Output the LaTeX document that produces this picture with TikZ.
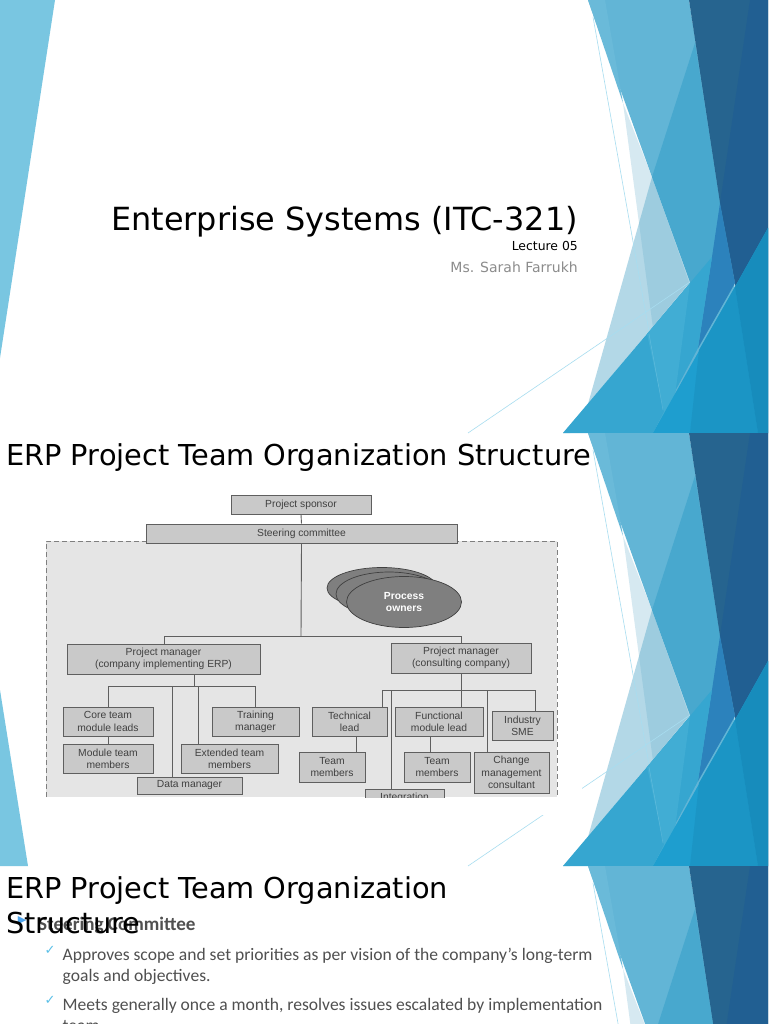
\documentclass[tikz,border=0pt]{standalone}
\usepackage{fontspec}
\setmainfont{DejaVu Sans}
\newfontfamily\bodyfont{Carlito}
\newfontfamily\diagfont{Liberation Sans}
\usetikzlibrary{shapes.geometric}
\definecolor{cLight}{HTML}{62B5D6}
\definecolor{cLighter}{HTML}{6ABAD9}
\definecolor{cMid}{HTML}{48A8CE}
\definecolor{cPale}{HTML}{B3D8E7}
\definecolor{cStrip}{HTML}{5DA9C9}
\definecolor{cDarkA}{HTML}{26648F}
\definecolor{cDarkB}{HTML}{215F92}
\definecolor{cBlue}{HTML}{2C82BC}
\definecolor{cTri}{HTML}{36A6D0}
\definecolor{cTriL}{HTML}{41ADD4}
\definecolor{cTriB}{HTML}{1E9ECF}
\definecolor{cTriM}{HTML}{1B95C5}
\definecolor{cTriC}{HTML}{178CBC}
\definecolor{cWedge}{HTML}{79C6E1}
\definecolor{cLine}{HTML}{A8DDF0}
\definecolor{cBox}{HTML}{C9C9C9}
\definecolor{cEdge}{HTML}{5F5F5F}
\definecolor{cRegion}{HTML}{E5E5E5}
\definecolor{cText}{HTML}{404040}
\definecolor{cOwner}{HTML}{7F7F7F}
\definecolor{cSub}{HTML}{8C8C8C}
\definecolor{cBody}{HTML}{505050}
\definecolor{cCheck}{HTML}{5BC0E8}
\tikzset{
  box/.style={draw=cEdge,fill=cBox,line width=1pt,inner sep=0pt,align=center,text=cText,
    font=\diagfont\fontsize{10.3}{12.2}\selectfont},
  link/.style={draw=cEdge,line width=0.9pt},
  owner/.style={ellipse,draw=cText,fill=cOwner,line width=0.7pt,inner sep=0pt},
  titletext/.style={anchor=base west,inner sep=0pt,font=\fontsize{28.8}{30}\selectfont,text=black},
  bodytext/.style={anchor=base west,inner sep=0pt,font=\bodyfont\fontsize{17.55}{20}\selectfont,text=cBody},
  check/.style={inner sep=0pt,text=cCheck,font=\fontsize{13}{14}\selectfont},
}
\newcommand{\bx}[6]{\node[box,minimum width={(#4-#2)*1pt},minimum height={(#5-#3)*1pt}] (#1) at ({(#2+#4)/2},{(#3+#5)/2}) {#6};}
\newcommand{\deco}[2]{%
  \begin{scope}[shift={(0,#1)}]
  \clip (0,0) rectangle (768,#2);
  \fill[cLight] (588,0)--(689,0)--(758,433)--(653,433)--(690,282)--cycle;
  \fill[cLighter] (588,0)--(605,0)--(623,103)--cycle;
  \fill[cPale] (652,177)--(690,282)--(588,404)--cycle;
  \fill[cPale] (588,404)--(605,385)--(570,433)--(563,433)--cycle;
  \fill[cStrip,opacity=.25] (623,103)--(652,177)--(690,285)--(667,433)--cycle;
  \fill[cMid] (695,43)--(720,203)--(735,283)--(698,348)--(690,282)--(652,177)--cycle;
  \fill[cDarkA] (689,0)--(768,0)--(768,433)--(758,433)--(735,283)--(720,203)--cycle;
  \fill[cDarkB] (750,0)--(768,0)--(768,433)--(735,283)--(720,203)--cycle;
  \fill[cBlue] (720,203)--(735,283)--(698,348)--(712,257)--cycle;
  \draw[cLine,line width=0.6pt] (593,17)--(663,410);
  \draw[cLine,line width=0.6pt] (468,433)--(690,282);
  \fill[cTri] (563,433)--(712,257)--(698,348)--(653,433)--cycle;
  \fill[cTriL] (647,334)--(690,283)--(670,433)--(653,433)--(664,412)--cycle;
  \fill[cTriB] (653,433)--(768,228)--(768,433)--cycle;
  \fill[cTriM] (690,433)--(699,350)--(735,287)--(758,433)--cycle;
  \fill[cTriC] (735,287)--(768,228)--(768,433)--(758,433)--cycle;
  \draw[cLine,line width=0.5pt,opacity=.3] (649,334)--(663,410);
  \end{scope}}
\begin{document}
\begin{tikzpicture}[x=1pt,y=-1pt]
\useasboundingbox (0,0) rectangle (768,1024);
\fill[white] (0,0) rectangle (768,1024);
% slide backgrounds
\deco{0}{433}
\deco{433}{433}
\deco{866}{158}
\fill[cWedge] (0,0)--(55,0)--(0,358)--cycle;
\fill[cWedge] (0,690)--(28,866)--(0,866)--cycle;
% slide 1 text
\node[anchor=base east,inner sep=0pt,font=\fontsize{31.9}{34}\selectfont,text=black] (t1) at (578,230) {Enterprise Systems (ITC-321)};
\node[anchor=base east,inner sep=0pt,font=\fontsize{12.4}{14}\selectfont,text=black] (t2) at (578,250) {Lecture 05};
\node[anchor=base east,inner sep=0pt,font=\fontsize{14}{16}\selectfont,text=cSub] (t3) at (578,272) {Ms. Sarah Farrukh};
% slide 2
\node[titletext] (t4) at (6,465) {ERP Project Team Organization Structure};
\fill[white] (30,480) rectangle (582,815);
\fill[cRegion] (46,541) rectangle (557,797);
\draw[cEdge!80,line width=0.8pt,dash pattern=on 5pt off 3pt] (46,797)--(46,541)--(557,541)--(557,797);
% ellipses
\node[owner,minimum width=110pt,minimum height=41pt] (o1) at (382,588) {};
\node[owner,minimum width=106pt,minimum height=44pt] (o2) at (389,594) {};
\node[owner,minimum width=115pt,minimum height=51pt,text=white,align=center,
  font=\diagfont\bfseries\fontsize{10.3}{12.2}\selectfont] (o3) at (404,602) {Process\\owners};
% boxes
\bx{sponsor}{231}{495}{371}{514}{Project sponsor}
\bx{steer}{146}{524}{457}{543}{Steering committee}
\bx{pma}{67}{644}{260}{674}{Project manager\\(company implementing ERP)}
\bx{pmb}{391}{643}{531}{673}{Project manager\\(consulting company)}
\bx{core}{63}{707}{153}{736}{Core team\\module leads}
\bx{modt}{63}{744}{153}{773}{Module team\\members}
\bx{train}{212}{707}{299}{736}{Training\\manager}
\bx{ext}{181}{744}{278}{773}{Extended team\\members}
\bx{data}{137}{777}{242}{794}{\raisebox{-1.5pt}{Data manager}}
\bx{tech}{312}{707}{387}{736}{Technical\\lead}
\bx{func}{395}{707}{483}{736}{Functional\\module lead}
\bx{ind}{492}{711}{553}{740}{Industry\\SME}
\bx{tma}{299}{752}{365}{782}{Team\\members}
\bx{tmb}{404}{752}{470}{782}{Team\\members}
\bx{chg}{474}{752}{549}{793}{Change\\management\\consultant}
\begin{scope}
\clip (300,700) rectangle (560,797);
\bx{integ}{365}{789}{444}{806}{Integration}
\end{scope}
% connectors
\coordinate (bus) at (301,636);
\coordinate (busa) at (164,636);
\coordinate (busb) at (461,636);
\coordinate (ba) at (194,686);
\coordinate (bb) at (461,690);
\draw[link] (sponsor.south) -- (steer.north);
\draw[link] (steer.south) -- (bus);
\draw[link] (pma.north -| busa) -- (busa) -- (busb) -- (pmb.north -| busb);
\draw[link] (pma.south -| ba) -- (ba);
\draw[link] (core.north) -- (ba -| core.north) -- (ba -| train.north) -- (train.north);
\draw[link] (core.south) -- (modt.north);
\coordinate (dtop) at (172,686);
\draw[link] (dtop) -- (data.north -| dtop);
\coordinate (etop) at (198,686);
\draw[link] (etop) -- (ext.north -| etop);
\draw[link] (pmb.south -| bb) -- (bb);
\coordinate (bbl) at (382,690);
\coordinate (bbr) at (535,690);
\draw[link] (tech.north -| bbl) -- (bbl) -- (bbr) -- (ind.north -| bbr);
\draw[link] (bb) -- (func.north -| bb);
\coordinate (itop) at (391,690);
\draw[link] (itop) -- (integ.north -| itop);
\coordinate (ctop) at (487,690);
\draw[link] (ctop) -- (chg.north -| ctop);
\coordinate (ta) at (356,736);
\draw[link] (ta) -- (tma.north -| ta);
\coordinate (tb) at (430,736);
\draw[link] (tb) -- (tmb.north -| tb);
% slide 3
\node[inner sep=0pt,text=cCheck!85!blue,font=\fontsize{11}{12}\selectfont] (b0) at (22,921) {▶};
\node[anchor=base west,inner sep=0pt,font=\bodyfont\bfseries\fontsize{19.1}{20}\selectfont,text=cBody] (s0) at (38,930) {Steering Committee};
\node[titletext] (t5) at (6,898) {ERP Project Team Organization};
\node[titletext] (t6) at (6,933) {Structure};
\node[check] (c1) at (50,950) {✓};
\node[bodytext] (s1) at (62.5,960) {Approves scope and set priorities as per vision of the company’s long-term};
\node[bodytext] (s2) at (62.5,981.5) {goals and objectives.};
\node[check] (c2) at (50,1000) {✓};
\node[bodytext] (s3) at (62.5,1010) {Meets generally once a month, resolves issues escalated by implementation};
\node[bodytext] (s4) at (62.5,1031) {team.};
\end{tikzpicture}
\end{document}
